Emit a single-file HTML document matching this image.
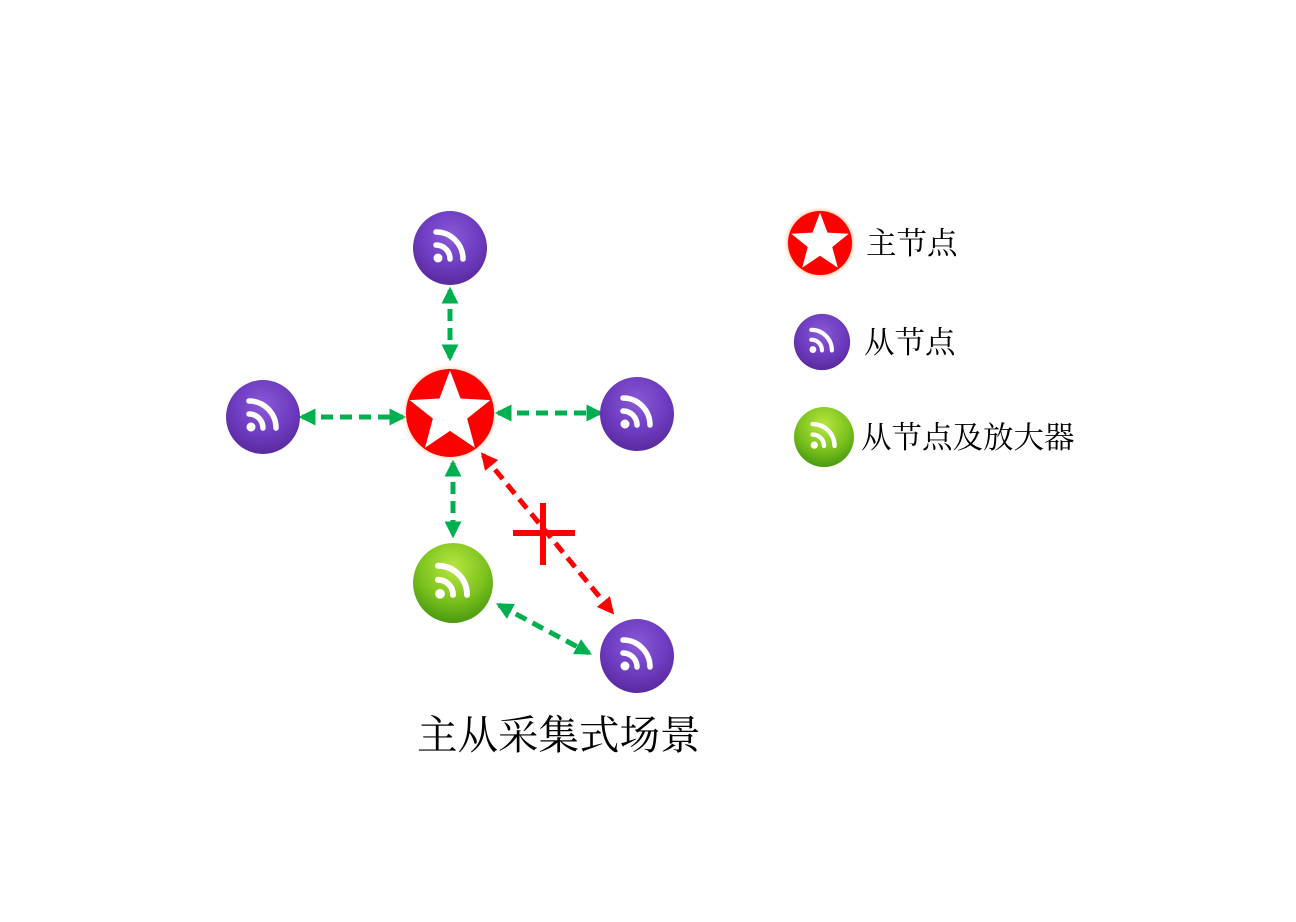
<!DOCTYPE html>
<html><head><meta charset="utf-8"><style>
html,body{margin:0;padding:0;background:#fff;}
svg{display:block;}
text{font-family:"Liberation Serif","Noto Serif CJK SC",serif;fill:#000;}
</style></head><body>
<svg width="1296" height="922" viewBox="0 0 1296 922" xmlns="http://www.w3.org/2000/svg">
<defs>
<radialGradient id="pur" cx="50%" cy="35%" r="65%">
<stop offset="0" stop-color="#8a5ad8"/><stop offset="0.6" stop-color="#6e3cc0"/><stop offset="1" stop-color="#5a2a9e"/>
</radialGradient>
<radialGradient id="grn" cx="50%" cy="30%" r="70%">
<stop offset="0" stop-color="#b8e640"/><stop offset="0.6" stop-color="#7cc21e"/><stop offset="1" stop-color="#4a9a10"/>
</radialGradient>
<radialGradient id="glow" cx="50%" cy="50%" r="50%">
<stop offset="0.85" stop-color="#ffb080"/><stop offset="1" stop-color="#ffe0cc" stop-opacity="0"/>
</radialGradient>
<marker id="ag" viewBox="0 0 10 10" refX="8" refY="5" markerWidth="3.4" markerHeight="3.4" orient="auto-start-reverse"><path d="M0,0L10,5L0,10z" fill="#00b050"/></marker>
<marker id="ar" viewBox="0 0 10 10" refX="8" refY="5" markerWidth="3.4" markerHeight="3.4" orient="auto-start-reverse"><path d="M0,0L10,5L0,10z" fill="#ff0000"/></marker>
<g id="rss">
<g fill="none" stroke="#fff" stroke-width="5.5" stroke-linecap="round"><path d="M-14,-3 A14,14 0 0 1 0,11"/><path d="M-14,-16 A27,27 0 0 1 13,11"/></g>
<circle cx="-12" cy="10" r="4.5" fill="#fff"/>
</g>
</defs>

<g stroke="#00b050" stroke-width="5" stroke-dasharray="12,7" fill="none" marker-start="url(#ag)" marker-end="url(#ag)">
<line x1="450" y1="290" x2="450" y2="358"/>
<line x1="302" y1="417" x2="403" y2="417"/>
<line x1="498" y1="413" x2="600" y2="413"/>
<line x1="453" y1="463" x2="453" y2="535"/>
<line x1="499" y1="605" x2="589" y2="653"/>
</g>
<line x1="483" y1="455" x2="612" y2="612" stroke="#ff0000" stroke-width="5" stroke-dasharray="12,7" marker-start="url(#ar)" marker-end="url(#ar)"/>
<g stroke="#ff0000" stroke-width="6"><line x1="513" y1="533" x2="575" y2="533"/><line x1="543" y1="503" x2="543" y2="565"/></g>

<g>
<circle cx="450" cy="413" r="48" fill="url(#glow)"/>
<circle cx="450" cy="413" r="44" fill="#ff0000"/>
<polygon fill="#fff" transform="translate(450,413) scale(1.12) translate(-450,-413)" points="450,375 459.4,400 486,401.5 465.3,418 472.3,444 450,429 427.7,444 434.7,418 414,401.5 440.6,400"/>
</g>
<g>
<circle cx="820" cy="243" r="36" fill="url(#glow)"/>
<circle cx="820" cy="243" r="32" fill="#ff0000"/>
<polygon fill="#fff" transform="translate(820,243) scale(0.8) translate(-450,-413)" points="450,375 459.4,400 486,401.5 465.3,418 472.3,444 450,429 427.7,444 434.7,418 414,401.5 440.6,400"/>
</g>

<g transform="translate(450,248)"><circle r="37" fill="url(#pur)"/><use href="#rss"/></g>
<g transform="translate(263,417)"><circle r="37" fill="url(#pur)"/><use href="#rss"/></g>
<g transform="translate(637,414)"><circle r="37" fill="url(#pur)"/><use href="#rss"/></g>
<g transform="translate(637,656)"><circle r="37" fill="url(#pur)"/><use href="#rss"/></g>
<g transform="translate(453,583) scale(1.08)"><circle r="37" fill="url(#grn)"/><use href="#rss"/></g>
<g transform="translate(822,342) scale(0.76)"><circle r="37" fill="url(#pur)"/><use href="#rss"/></g>
<g transform="translate(824,437) scale(0.81)"><circle r="37" fill="url(#grn)"/><use href="#rss"/></g>

<text x="866" y="254" font-size="30.5">主节点</text>
<text x="864" y="353" font-size="30.5">从节点</text>
<text x="861" y="448" font-size="30.5">从节点及放大器</text>
<text x="417" y="749" font-size="40.5">主从采集式场景</text>
</svg>
</body></html>
